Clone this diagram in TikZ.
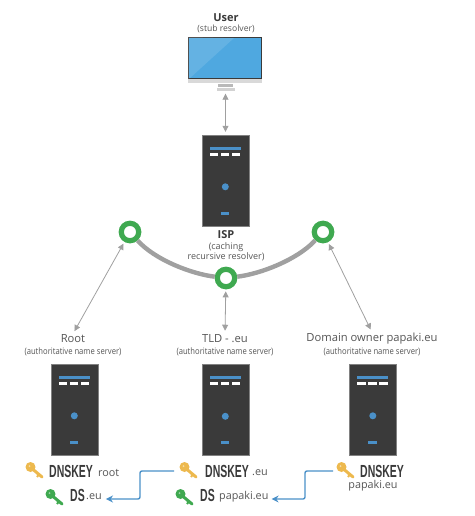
\documentclass[tikz,border=0pt]{standalone}
\usepackage{fontspec}
\setmainfont{Open Sans}
\newfontfamily\keyfont[FakeStretch=0.6]{Liberation Sans Bold}
\newfontfamily\narrowfont[FakeStretch=0.86]{Open Sans}
\usepackage{tikz}
\usetikzlibrary{arrows.meta,positioning}
\definecolor{texto}{HTML}{555555}
\definecolor{servidor}{HTML}{3A3A3A}
\definecolor{azul}{HTML}{4A90C8}
\definecolor{pantalla}{HTML}{4FA8E0}
\definecolor{anillo}{HTML}{3FA950}
\definecolor{oro}{HTML}{EDB94E}
\definecolor{gris}{HTML}{A0A0A0}

\begin{document}
\begin{tikzpicture}[x=1pt,y=-1pt,
  serverbox/.style={fill=servidor, draw=gris!70!servidor, line width=0.4pt, minimum width=47pt, minimum height=91pt, inner sep=0pt},
  ring/.style={circle, draw=anillo, line width=5.2pt, fill=white, minimum size=17.5pt, inner sep=0pt},
  titulo/.style={text=texto, font=\fontsize{11.2}{13}\selectfont, inner sep=1pt},
  sub/.style={text=texto, font=\narrowfont\fontsize{8.9}{10}\selectfont, inner sep=1pt},
  clave/.style={text=servidor, font=\keyfont\fontsize{17.5}{19}\selectfont, inner sep=0pt},
  dominio/.style={text=texto, font=\fontsize{10.8}{12}\selectfont, inner sep=0pt},
  doble/.style={{Triangle[length=6pt,width=6pt]}-{Triangle[length=6pt,width=6pt]}, gris, line width=0.8pt, shorten <=2pt, shorten >=3pt},
  flecha/.style={-{Stealth[length=7pt,width=7pt]}, azul, line width=1.4pt, rounded corners=2pt},
  key/.pic={
    \draw[#1, line width=3pt, line cap=round] (2,2) -- (11.5,10);
    \draw[#1, line width=2pt] (8.5,7.5) -- (6.5,10);
    \fill[#1] (0,0) circle (5pt);
    \fill[white, opacity=0.5] (-1,-1) circle (1pt);
  }]
\useasboundingbox (0,0) rectangle (474,516);

% usuario
\node[inner sep=0pt, font=\bfseries\fontsize{11}{13}\selectfont, text=servidor] (user) at (226,18) {User};
\node[sub, font=\fontsize{8.6}{10}\selectfont] (userdesc) at (226,29) {(stub resolver)};
\node[fill=pantalla, draw=servidor, line width=1.2pt, minimum width=73pt, minimum height=41pt, inner sep=0pt] (screen) at (225,58) {};
\fill[white, opacity=0.12] (screen.north west) -- (234,38) -- (190,78) -- (screen.south west) -- cycle;
\fill[gray!30] (188,79.5) rectangle (262,83.5);
\fill[gray!55] (218,84) rectangle (233,87);
\node[fill=gray!35, minimum width=18pt, minimum height=3pt, inner sep=0pt] (stand) at (225.5,90) {};

% servidores
\foreach \n/\x/\y in {isp/225.5/180.5, root/74.5/409.5, tld/225.5/410, owner/373/409.5} {
  \node[serverbox] (\n) at (\x,\y) {};
  \begin{scope}[shift={(\n.north west)}]
    \fill[azul] (8,12) rectangle (39,15);
    \foreach \b in {8,19,30}
      \fill[white] (\b,18) rectangle ++(8.5,3);
    \fill[azul] (23.5,52) circle (3.5pt);
    \fill[azul] (19,77) rectangle (27.5,80);
  \end{scope}
}

% resolutor
\node[titulo, font=\bfseries\fontsize{11}{13}\selectfont, text=servidor] (isplbl) at (226,235) {ISP};
\node[titulo, font=\fontsize{9}{11}\selectfont] (ispdesc) at (226,252) {\begin{tabular}{@{}c@{}}(caching\\[-1pt]recursive resolver)\end{tabular}};
\node[ring] (ringl) at (130,232) {};
\node[ring] (ringm) at (226,278) {};
\node[ring] (ringr) at (323,232) {};
\draw[gris, line width=4.4pt] (ringl) .. controls (155,260) and (192,274) .. (ringm);
\draw[gris, line width=4.4pt] (ringm) .. controls (260,274) and (297,260) .. (ringr);

% etiquetas
\node[titulo] (rootlbl) at (73,339) {Root};
\node[sub] (rootdesc) at (73,352) {(authoritative name server)};
\node[titulo] (tldlbl) at (225,339) {TLD - .eu};
\node[sub] (tlddesc) at (225,352) {(authoritative name server)};
\node[titulo] (ownerlbl) at (372,339) {Domain owner papaki.eu};
\node[sub] (ownerdesc) at (372,352) {(authoritative name server)};

\draw[doble] (stand) -- (isp);
\draw[doble] (ringl) -- (rootlbl.north);
\draw[doble] (ringm) -- (tldlbl.north);
\draw[doble] (ringr) -- (ownerlbl.north);

% claves
\pic at (30.5,467) {key=oro};
\pic at (50.5,494) {key=anillo};
\pic at (184.5,467) {key=oro};
\pic at (180.5,494) {key=anillo};
\pic at (341.5,467) {key=oro};
\node[clave, anchor=west] (k1) at (49,471) {DNSKEY};
\node[dominio, anchor=west] (k1d) at (98,473) {root};
\node[clave, anchor=west] (d1) at (70,495) {DS};
\node[dominio, anchor=west, inner xsep=4pt] (d1d) at (82,497) {.eu};
\node[clave, anchor=west] (k2) at (205,471) {DNSKEY};
\node[dominio, anchor=west] (k2d) at (252,473) {.eu};
\node[clave, anchor=west] (d2) at (200,495) {DS};
\node[dominio, anchor=west, inner xsep=3pt] (d2d) at (216,497) {papaki.eu};
\node[clave, anchor=west] (k3) at (360,471) {DNSKEY};
\node[dominio] (k3d) at (373,486) {papaki.eu};

\coordinate (tldsale) at (174,471);
\coordinate (ownersale) at (333,471);
\draw[flecha] (tldsale) -| (140,499) -- (d1d.east |- 0,499);
\draw[flecha] (ownersale) -| (305,499) -- (d2d.east |- 0,499);
\end{tikzpicture}
\end{document}
